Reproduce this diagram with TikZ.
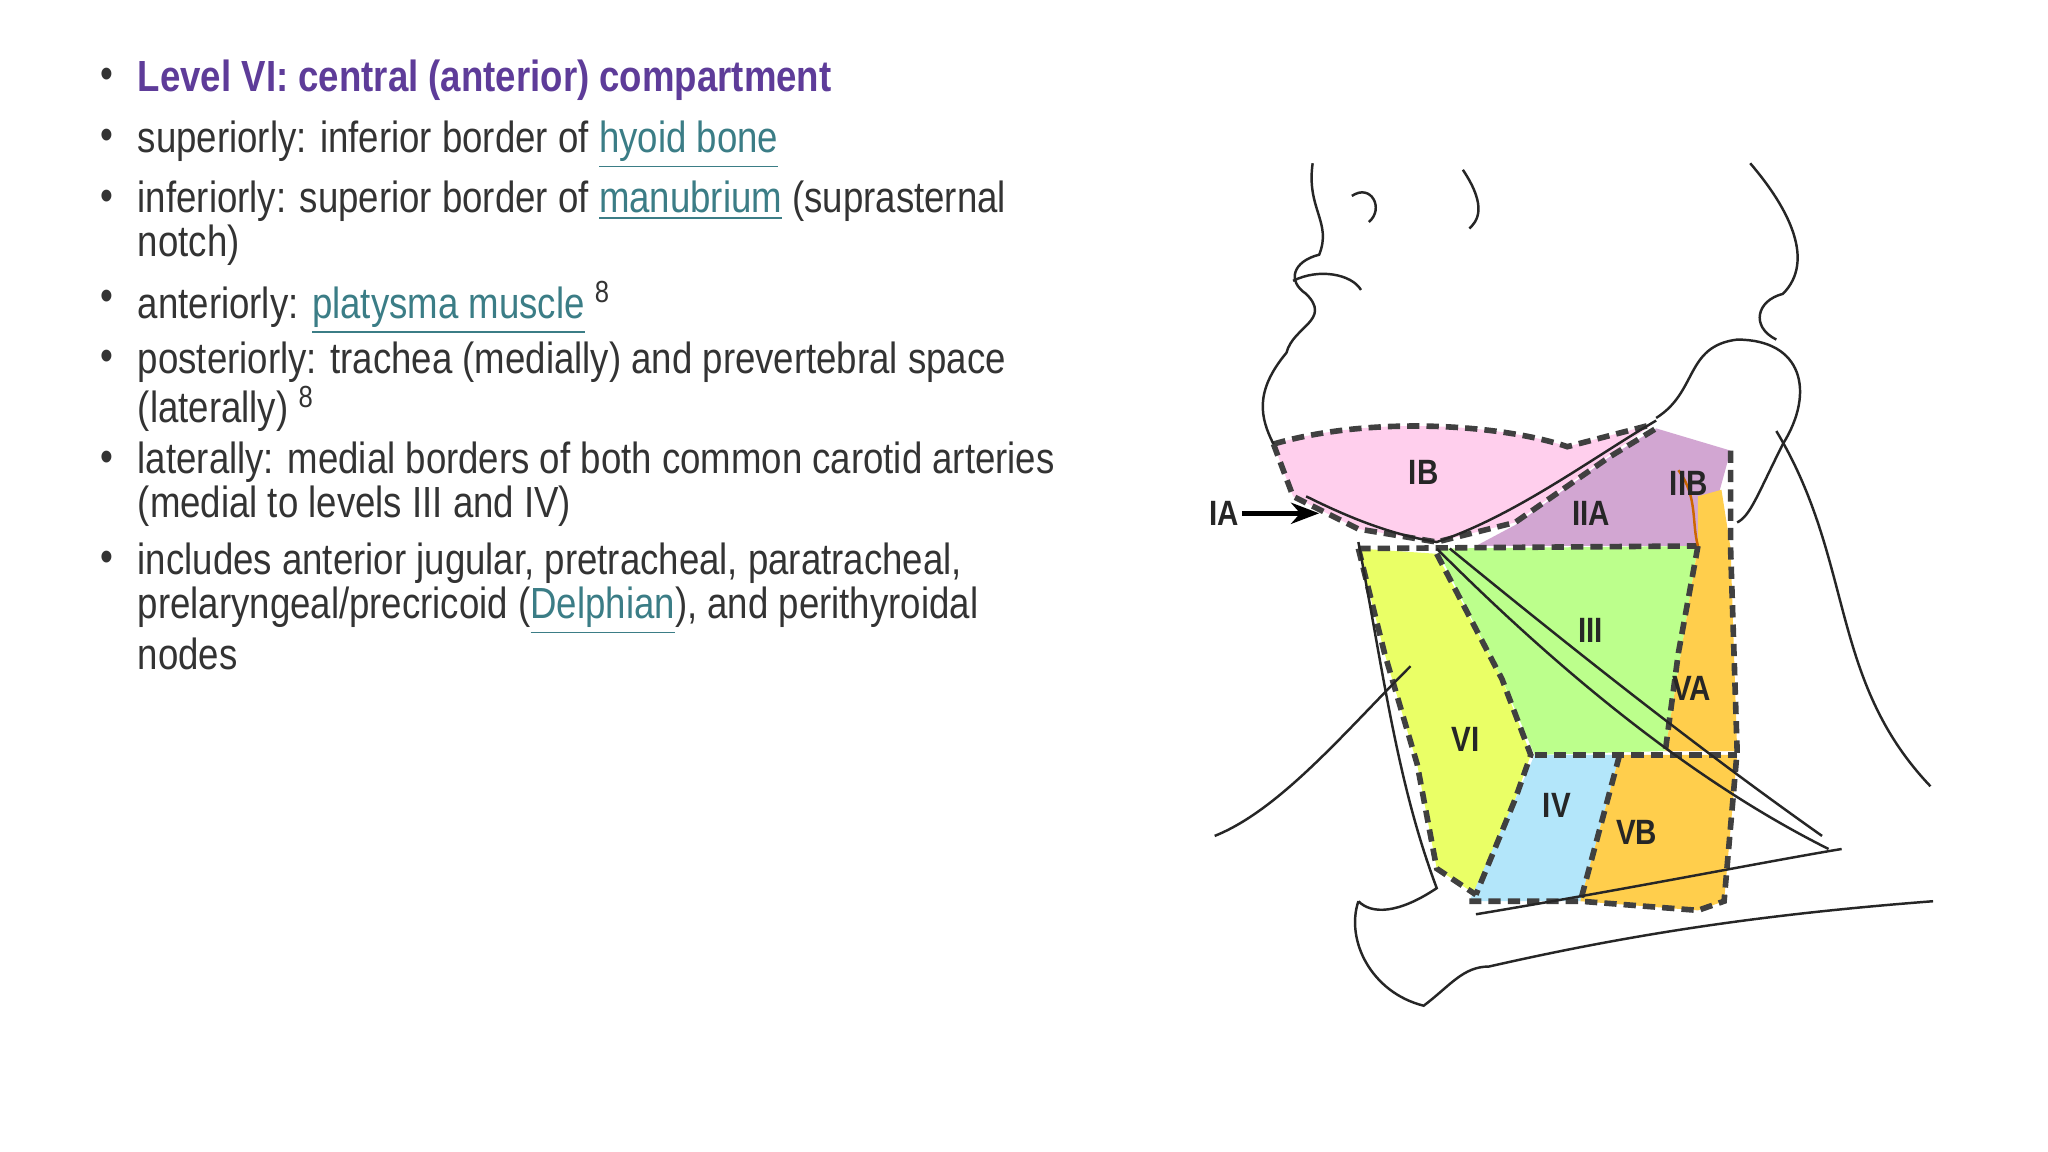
\documentclass[tikz,border=0pt]{standalone}
\usepackage{fontspec}
\setmainfont[FakeStretch=0.84]{Liberation Sans}
\usetikzlibrary{arrows.meta}
\definecolor{txt}{HTML}{333333}
\definecolor{ttl}{HTML}{5E3C99}
\definecolor{lnk}{HTML}{3B7D86}
\newcommand{\lk}[1]{\textcolor{lnk}{\underline{#1}}}
\tikzset{
 item/.style={anchor=north west,align=left,inner sep=0pt,text=txt,font=\fontsize{12.4}{10.9}\selectfont},
 bul/.style={inner sep=0pt,text=txt,font=\fontsize{12.4}{10.9}\selectfont},
 zone/.style={draw=black!75,line width=1.6pt,dash pattern=on 3.5pt off 2pt},
 art/.style={draw=black!85,line width=0.7pt},
 lab/.style={font=\fontsize{10}{10}\selectfont\bfseries,text=black!85,inner sep=0pt}
}
\begin{document}
\begin{tikzpicture}[x=0.01306cm,y=-0.01306cm]
\useasboundingbox[fill=white] (0,0) rectangle (1568,882);
% bullets
\foreach \n/\y in {b1/60,b2/107,b3/153,b4/230,b5/276,b6/353,b7/430}{\node[bul] (\n) at (82,\y) {•};}
\node[item,text=ttl,font=\fontsize{12.4}{10.9}\selectfont\bfseries] (t1) at (105,45) {Level VI: central (anterior) compartment};
\node[item] (t2) at (105,92) {superiorly: inferior border of \lk{hyoid bone}};
\node[item] (t3) at (105,138) {inferiorly: superior border of \lk{manubrium} (suprasternal\\notch)};
\node[item] (t4) at (105,215) {anteriorly: \lk{platysma muscle} \textsuperscript{8}};
\node[item] (t5) at (105,261) {posteriorly: trachea (medially) and prevertebral space\\(laterally) \textsuperscript{8}};
\node[item] (t6) at (105,338) {laterally: medial borders of both common carotid arteries\\(medial to levels III and IV)};
\node[item] (t7) at (105,415) {includes anterior jugular, pretracheal, paratracheal,\\prelaryngeal/precricoid (\lk{Delphian}), and perithyroidal\\nodes};
% zones
\fill[pink!70!magenta!40] (975,340) .. controls (1050,318) and (1150,325) .. (1200,342) -- (1265,325) -- (1230,350) -- (1160,400) -- (1100,415) -- (1040,405) -- (990,380) -- cycle;
\fill[violet!35] (1160,402) -- (1232,350) -- (1268,328) -- (1325,345) -- (1305,418) -- (1130,418) -- cycle;
\fill[green!45!lime!45] (1100,420) -- (1300,418) -- (1275,575) -- (1175,578) -- (1150,520) -- cycle;
\fill[lime!55!yellow!60] (1040,420) -- (1100,424) -- (1150,520) -- (1172,578) -- (1160,612) -- (1130,685) -- (1100,665) -- (1085,585) -- (1060,500) -- cycle;
\fill[cyan!30] (1175,578) -- (1240,578) -- (1210,690) -- (1125,690) -- (1160,612) -- cycle;
\fill[orange!55!yellow!70] (1300,380) -- (1318,375) -- (1325,420) -- (1330,575) -- (1275,575) -- (1300,418) -- cycle;
\fill[orange!55!yellow!70] (1240,578) -- (1330,578) -- (1320,690) -- (1300,697) -- (1210,690) -- cycle;
% dashed borders
\draw[zone] (975,340) .. controls (1050,318) and (1150,325) .. (1200,342) -- (1265,325);
\draw[zone] (975,340) -- (990,380) -- (1040,405) -- (1100,415) -- (1160,400) -- (1232,350) -- (1268,328);
\draw[zone] (1040,420) -- (1300,418);
\draw[zone] (1300,418) -- (1285,500) -- (1275,575);
\draw[zone] (1325,345) -- (1325,420) -- (1330,575) -- (1320,690) -- (1300,697) -- (1210,690) -- (1125,690);
\draw[zone] (1175,578) -- (1330,578);
\draw[zone] (1240,578) -- (1210,690);
\draw[zone] (1040,420) -- (1060,500) -- (1085,585) -- (1100,665) -- (1130,685);
\draw[zone] (1100,424) -- (1150,520) -- (1172,578) -- (1160,612) -- (1130,685);
\draw[art,orange!80!black] (1285,360) .. controls (1300,380) and (1295,400) .. (1300,418);
% line art
\draw[art] (1005,125) .. controls (1000,160) and (1020,170) .. (1010,195) .. controls (990,200) and (985,215) .. (1000,225) .. controls (1020,245) and (990,250) .. (985,270) .. controls (960,300) and (965,320) .. (975,340);
\draw[art] (990,215) .. controls (1010,205) and (1035,210) .. (1042,222);
\draw[art] (1035,150) .. controls (1050,140) and (1060,160) .. (1048,170);
\draw[art] (1120,130) .. controls (1140,160) and (1130,170) .. (1125,175);
\draw[art] (1340,125) .. controls (1370,160) and (1390,200) .. (1365,225) .. controls (1345,230) and (1340,250) .. (1360,260);
\draw[art] (1268,320) .. controls (1300,300) and (1290,265) .. (1330,260) .. controls (1380,260) and (1390,300) .. (1365,340) .. controls (1345,380) and (1340,395) .. (1330,400);
\draw[art] (1360,330) .. controls (1420,430) and (1400,520) .. (1478,602);
\draw[art] (1000,380) .. controls (1040,400) and (1070,410) .. (1100,415) .. controls (1160,395) and (1220,350) .. (1268,322);
\draw[art] (1100,420) .. controls (1200,520) and (1300,600) .. (1400,650);
\draw[art] (1110,420) .. controls (1220,510) and (1310,580) .. (1395,640);
\draw[art] (1040,415) .. controls (1060,520) and (1070,600) .. (1100,680) .. controls (1070,700) and (1050,700) .. (1040,690);
\draw[art] (1080,510) .. controls (1030,560) and (980,620) .. (930,640);
\draw[art] (1040,690) .. controls (1030,720) and (1050,760) .. (1090,770) .. controls (1110,755) and (1120,740) .. (1140,740) .. controls (1250,715) and (1350,700) .. (1480,690);
\draw[art] (1130,700) .. controls (1250,680) and (1350,660) .. (1410,650);
% labels
\node[lab] (IB) at (1090,362) {IB};
\node[lab] (IIA) at (1218,393) {IIA};
\node[lab] (IIB) at (1293,370) {IIB};
\node[lab] (III) at (1218,483) {III};
\node[lab] (VA) at (1295,527) {VA};
\node[lab] (VI) at (1122,566) {VI};
\node[lab] (IV) at (1192,617) {IV};
\node[lab] (VB) at (1253,637) {VB};
\node[lab] (IA) at (937,393) {IA};
\coordinate (IAt) at (1010,393);
\draw[-{Stealth[length=8pt]},line width=1.5pt] (IA.east) ++(2,0) -- (IAt);
\end{tikzpicture}
\end{document}
